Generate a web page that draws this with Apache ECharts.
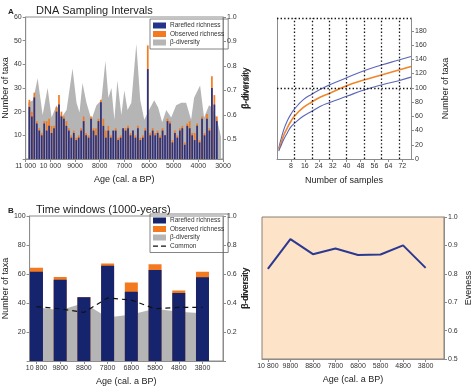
<!DOCTYPE html>
<html><head><meta charset="utf-8">
<script src="https://cdn.jsdelivr.net/npm/echarts@6/dist/echarts.min.js"></script>
<style>html,body{margin:0;padding:0;background:#fff}#c{width:474px;height:389px}</style>
</head><body><div id="c"></div>
<script>
// ---- Panel A (left): DNA sampling intervals ----
const ageA = [10850,10750,10650,10550,10450,10350,10250,10150,10050,9950,9850,9750,9650,9550,9450,9350,9250,9150,9050,8950,8850,8750,8650,8550,8450,8350,8250,8150,8050,7950,7850,7750,7650,7550,7450,7350,7250,7150,7050,6950,6850,6750,6650,6550,6450,6350,6250,6150,6050,5950,5850,5750,5650,5550,5450,5350,5250,5150,5050,4950,4850,4750,4650,4550,4450,4350,4250,4150,4050,3950,3850,3750,3650,3550,3450,3350,3250];
const rarefiedA = [22,18,26,15,12,10,15,12,14,11,13,20,23,18,17,14,12,9,11,8,9,12,16,10,9,17,12,10,16,24,14,9,12,9,12,12,8,9,13,12,13,10,12,9,13,8,9,12,38,10,12,10,11,9,12,10,16,15,7,11,9,12,13,6,14,13,10,8,14,7,17,10,17,12,30,23,16];
const observedA = [25,20,28,16,13,11,16,16,17,14,14,22,27,20,18,16,13,10,12,9,10,13,18,11,10,18,13,13,17,25,17,12,14,10,12,13,9,10,13,13,14,11,12,10,14,9,10,13,48,11,13,11,12,10,13,10,17,16,8,12,10,13,14,7,15,16,11,11,15,8,18,11,19,13,35,27,18];
const betaAgeA = [10900,10700,10515,10313,10111,9950,9747,9545,9343,9101,8939,8818,8697,8535,8333,8131,7929,7768,7646,7525,7404,7283,7121,7000,6870,6717,6515,6354,6192,6000,5788,5630,5465,5300,5101,4899,4697,4495,4293,4172,3929,3768,3566,3444,3242,3081];
const betaA = [0.65,0.66,0.75,0.60,0.71,0.59,0.64,0.59,0.62,0.79,0.65,0.61,0.73,0.65,0.58,0.64,0.66,0.82,0.67,0.71,0.58,0.74,0.60,0.70,0.62,0.65,0.89,0.66,0.58,0.62,0.66,0.63,0.57,0.62,0.59,0.64,0.65,0.65,0.58,0.67,0.72,0.59,0.64,0.63,0.58,0.51];
const ageTicksA = [11000,10000,9000,8000,7000,6000,5000,4000,3000];

// ---- Panel A (right): rarefaction ----
const samples = [1,2,4,6,8,10,15,20,25,30,40,50,60,70,77];
const rareMid = [13,20,34,44,53,60,72,80,87,92,103,111,118,125,130];
const rareUp  = [15,25,42,54,63,70,83,91,98,104,114,124,132,139,144];
const rareLow = [11,17,28,37,45,50,60,67,74,79,88,97,104,110,115];
const sampleTicks = [8,16,24,32,40,48,56,64,72];
const dottedX = [10,20,30,40,50,60,70];

// ---- Panel B (left): time windows ----
const ageB = [10800,9800,8800,7800,6800,5800,4800,3800];
const rarefiedB = [61.6,56,44,65.7,47.8,62.8,46.9,57.7];
const observedB = [64.3,58,44,67.3,54.2,66.7,48.7,61.6];
const betaB = [0.37,0.35,0.40,0.30,0.32,0.36,0.34,0.33];
const commonB = [37.5,36,33.5,43.5,42,36,37,37];

// ---- Panel B (right): evenness ----
const evenness = [0.817,0.922,0.869,0.889,0.866,0.868,0.90,0.821];

const FONT = "'Liberation Sans', Arial, sans-serif";
const NAVY = '#16246e', ORANGE = '#f47a20', GREY = '#b5b5b5', AX = '#8c8c8c';
const fmtAge = v => v >= 10000 ? String(v).slice(0,2) + ' ' + String(v).slice(2) : String(v);

function axLine(show){ return {show: show !== false, lineStyle:{color:AX, width:1}}; }
const lbl = {fontSize:7, color:'#333', fontFamily:FONT, margin:4};
const nameStyle = {fontSize:9, color:'#222', fontFamily:FONT};

const chart = echarts.init(document.getElementById('c'), null, {renderer:'canvas'});
chart.setOption({
  animation:false,
  textStyle:{fontFamily:FONT},
  title:[
    {text:'A', left:3, top:3, textStyle:{fontSize:8, fontWeight:'bold', color:'#222', fontFamily:FONT}},
    {text:'DNA Sampling Intervals', left:31, top:0, textStyle:{fontSize:11, fontWeight:'normal', color:'#222', fontFamily:FONT}},
    {text:'B', left:3, top:202, textStyle:{fontSize:8, fontWeight:'bold', color:'#222', fontFamily:FONT}},
    {text:'Time windows (1000-years)', left:31, top:199, textStyle:{fontSize:11, fontWeight:'normal', color:'#222', fontFamily:FONT}}
  ],
  legend:[
    {left:150, top:19, orient:'vertical', itemWidth:13, itemHeight:6, itemGap:1.5, padding:[3,4,3,3],
     borderColor:'#666', borderWidth:0.8, selectedMode:false,
     textStyle:{fontSize:6.5, color:'#333', fontFamily:FONT, padding:[0,0,0,-1]},
     data:[{name:'Rarefied richness', icon:'rect'},{name:'Observed richness', icon:'rect'},{name:'β-diversity', icon:'rect'}]},
    {left:150, top:214, orient:'vertical', itemWidth:13, itemHeight:6, itemGap:1.5, padding:[3,4,3,3],
     borderColor:'#666', borderWidth:0.8, selectedMode:false,
     textStyle:{fontSize:6.5, color:'#333', fontFamily:FONT, padding:[0,0,0,-1]},
     data:[{name:'Rarefied richness B', icon:'rect'},{name:'Observed richness B', icon:'rect'},{name:'β-diversity B', icon:'rect'},
           {name:'Common', icon:'path://M0,0M13,6M0,2.4h5v1.3h-5zM8,2.4h5v1.3h-5z', itemStyle:{color:'#111'}}],
     formatter: n => n.replace(' B','')}
  ],
  grid:[
    {left:25, top:17, width:198, height:142, show:true, borderColor:AX, borderWidth:1, backgroundColor:'transparent'},
    {left:277, top:18, width:134, height:141},
    {left:25, top:216, width:198, height:145, show:true, borderColor:AX, borderWidth:1, backgroundColor:'transparent'},
    {left:262, top:217, width:186, height:142, show:true, borderColor:'#8a8078', borderWidth:1, backgroundColor:'#fde3c8'}
  ],
  xAxis:[
    {gridIndex:0, type:'value', inverse:true, min:3000, max:11000, axisLine:axLine(), splitLine:{show:false},
     axisTick:{customValues:ageTicksA, length:3, lineStyle:{color:AX}},
     axisLabel:Object.assign({customValues:ageTicksA, formatter:fmtAge}, lbl),
     name:'Age (cal. a BP)', nameLocation:'middle', nameGap:16, nameTextStyle:nameStyle},
    {gridIndex:1, type:'value', min:0, max:77, axisLine:axLine(), splitLine:{show:false},
     axisTick:{customValues:sampleTicks, length:3, lineStyle:{color:AX}},
     axisLabel:Object.assign({customValues:sampleTicks}, lbl),
     name:'Number of samples', nameLocation:'middle', nameGap:17, nameTextStyle:nameStyle},
    {gridIndex:2, type:'value', inverse:true, min:2935, max:11090, axisLine:axLine(), splitLine:{show:false},
     axisTick:{customValues:ageB, length:3, lineStyle:{color:AX}},
     axisLabel:Object.assign({customValues:ageB, formatter:fmtAge}, lbl),
     name:'Age (cal. a BP)', nameLocation:'middle', nameGap:16, nameTextStyle:nameStyle},
    {gridIndex:3, type:'value', inverse:true, min:2985, max:11060, axisLine:axLine(), splitLine:{show:false},
     axisTick:{customValues:ageB, length:3, lineStyle:{color:AX}},
     axisLabel:Object.assign({customValues:ageB, formatter:fmtAge}, lbl),
     name:'Age (cal. a BP)', nameLocation:'middle', nameGap:16, nameTextStyle:nameStyle}
  ],
  yAxis:[
    {gridIndex:0, type:'value', min:0, max:60, interval:10, axisLine:axLine(), splitLine:{show:false},
     axisTick:{show:true, length:3, lineStyle:{color:AX}},
     axisLabel:Object.assign({formatter:v => v === 0 ? '' : v}, lbl),
     name:'Number of taxa', nameLocation:'middle', nameGap:15, nameTextStyle:nameStyle},
    {gridIndex:0, type:'value', position:'right', min:0.42, max:1.0, axisLine:axLine(), splitLine:{show:false},
     axisTick:{show:true, customValues:[0.5,0.6,0.7,0.8,0.9,1.0], length:3, lineStyle:{color:AX}},
     axisLabel:Object.assign({customValues:[0.5,0.6,0.7,0.8,0.9,1.0], formatter:v => v.toFixed(1)}, lbl),
     name:'β-diversity', nameLocation:'middle', nameGap:16, nameTextStyle:nameStyle},
    {gridIndex:1, type:'value', min:0, max:198, axisLine:axLine(), splitLine:{show:false},
     axisTick:{show:false}, axisLabel:{show:false},
     name:'β-diversity', nameLocation:'middle', nameGap:26, nameTextStyle:nameStyle},
    {gridIndex:1, type:'value', position:'right', min:0, max:198, axisLine:axLine(), splitLine:{show:false},
     axisTick:{show:true, customValues:[0,20,40,60,80,100,120,140,160,180], length:3, lineStyle:{color:AX}},
     axisLabel:Object.assign({customValues:[0,20,40,60,80,100,120,140,160,180]}, lbl),
     name:'Number of taxa', nameLocation:'middle', nameGap:30, nameTextStyle:nameStyle},
    {gridIndex:2, type:'value', min:0, max:100, interval:20, axisLine:axLine(), splitLine:{show:false},
     axisTick:{show:true, length:3, lineStyle:{color:AX}},
     axisLabel:Object.assign({formatter:v => v === 0 ? '' : v}, lbl),
     name:'Number of taxa', nameLocation:'middle', nameGap:15, nameTextStyle:nameStyle},
    {gridIndex:2, type:'value', position:'right', min:0, max:1, interval:0.2, axisLine:axLine(), splitLine:{show:false},
     axisTick:{show:true, length:3, lineStyle:{color:AX}},
     axisLabel:Object.assign({formatter:v => v === 0 ? '' : v.toFixed(1)}, lbl),
     name:'β-diversity', nameLocation:'middle', nameGap:16, nameTextStyle:nameStyle},
    {gridIndex:3, type:'value', min:0.5, max:1, interval:0.1, axisLine:axLine(false), splitLine:{show:false},
     axisTick:{show:false}, axisLabel:{show:false},
     name:'β-diversity', nameLocation:'middle', nameGap:12, nameTextStyle:nameStyle},
    {gridIndex:3, type:'value', position:'right', min:0.5, max:1, interval:0.1, axisLine:axLine(), splitLine:{show:false},
     axisTick:{show:true, length:3, lineStyle:{color:AX}},
     axisLabel:Object.assign({formatter:v => v.toFixed(1)}, lbl),
     name:'Eveness', nameLocation:'middle', nameGap:20, nameTextStyle:nameStyle}
  ],
  series:[
    // Panel A left
    {name:'β-diversity', type:'line', xAxisIndex:0, yAxisIndex:1, z:1, symbol:'none',
     data: betaAgeA.map((a,i)=>[a, betaA[i]]), itemStyle:{color:GREY}, lineStyle:{width:0},
     areaStyle:{color:GREY, opacity:1, origin:'start'}},
    {name:'Observed richness', type:'bar', xAxisIndex:0, yAxisIndex:0, barWidth:1.7, barGap:'-100%', z:3,
     itemStyle:{color:ORANGE}, data: ageA.map((a,i)=>[a, observedA[i]])},
    {name:'Rarefied richness', type:'bar', xAxisIndex:0, yAxisIndex:0, barWidth:1.7, barGap:'-100%', z:4,
     itemStyle:{color:'#24348a'}, data: ageA.map((a,i)=>[a, rarefiedA[i]])},
    // Panel A right
    {name:'upper', type:'line', xAxisIndex:1, yAxisIndex:3, smooth:true, symbol:'none',
     lineStyle:{color:'#5a66b8', width:1.1}, data: samples.map((s,i)=>[s, rareUp[i]]),
     markLine:{silent:true, symbol:'none', label:{show:false},
       lineStyle:{color:'#111', type:[1.4,2.2], width:1.3},
       data: dottedX.map(x=>({xAxis:x})).concat([{yAxis:100},{yAxis:198}])}},
    {name:'mid', type:'line', xAxisIndex:1, yAxisIndex:3, smooth:true, symbol:'none',
     lineStyle:{color:'#f0852a', width:1.6}, data: samples.map((s,i)=>[s, rareMid[i]])},
    {name:'lower', type:'line', xAxisIndex:1, yAxisIndex:3, smooth:true, symbol:'none',
     lineStyle:{color:'#5a66b8', width:1.1}, data: samples.map((s,i)=>[s, rareLow[i]])},
    // Panel B left
    {name:'β-diversity B', type:'line', xAxisIndex:2, yAxisIndex:5, z:1, symbol:'none',
     data: ageB.map((a,i)=>[a, betaB[i]]), itemStyle:{color:GREY}, lineStyle:{width:0},
     areaStyle:{color:GREY, opacity:1, origin:'start'}},
    {name:'Observed richness B', type:'bar', xAxisIndex:2, yAxisIndex:4, barWidth:13, barGap:'-100%', z:3,
     itemStyle:{color:ORANGE}, data: ageB.map((a,i)=>[a, observedB[i]])},
    {name:'Rarefied richness B', type:'bar', xAxisIndex:2, yAxisIndex:4, barWidth:13, barGap:'-100%', z:4,
     itemStyle:{color:NAVY}, data: ageB.map((a,i)=>[a, rarefiedB[i]])},
    {name:'Common', type:'line', xAxisIndex:2, yAxisIndex:4, z:5, symbol:'none',
     itemStyle:{color:'#111'}, lineStyle:{color:'#111', width:1.2, type:[5,4]},
     data: ageB.map((a,i)=>[a, commonB[i]])},
    // Panel B right
    {name:'Evenness', type:'line', xAxisIndex:3, yAxisIndex:7, symbol:'none',
     lineStyle:{color:'#2b3990', width:2}, data: ageB.map((a,i)=>[a, evenness[i]])}
  ]
});
</script></body></html>
